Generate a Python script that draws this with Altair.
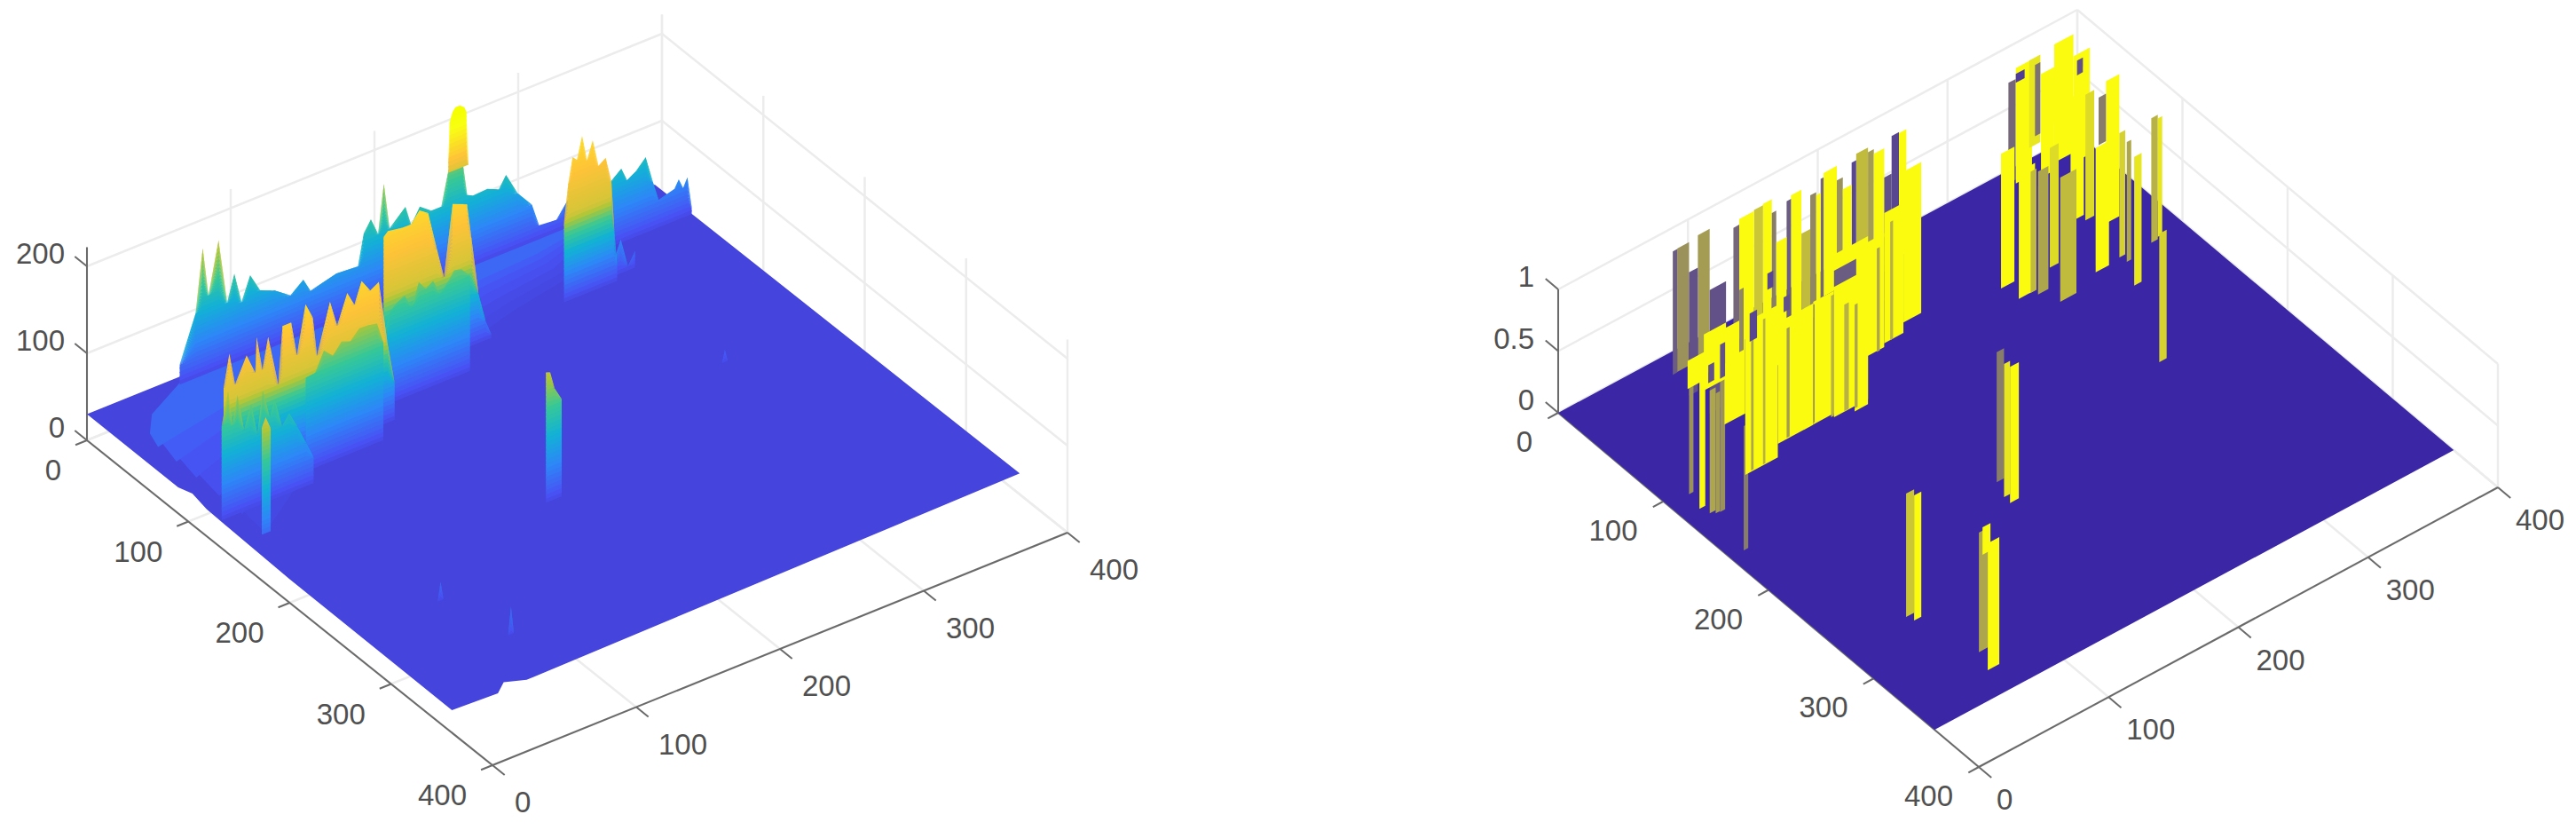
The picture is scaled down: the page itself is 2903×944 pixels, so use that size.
import altair as alt
import numpy as np
import pandas as pd

W, H = 2880, 920
PARULA = ["#3e26a8", "#4852f4", "#2d87f7", "#12b1d6", "#37c897", "#abc739", "#fec338", "#f9fb15"]
CLIM = 235.0
FLOOR_TONE = 23

X_TICKS = [0, 100, 200, 300, 400]
LEFT_Z_TICKS = [0, 100, 200]
RIGHT_Z_TICKS = [0, 0.5, 1]
RIGHT_Z_LABELS = ["0", "0.5", "1"]

# ---- left surface: floor outline (x, y, z)
FLOOR_L = [(0, 0, 30), (395, 0, 30), (395, 360, 34), (52, 360, 26), (36, 360, 34), (32, 360, 24), (0, 360, 26),
           (0, 200, 27), (0, 118, 31), (0, 104, 36), (0, 90, 30)]
# raised shoulder around the ridges
HAZE_OUTLINE = [(30, 60), (18, 110), (14, 156), (71, 118), (142, 90), (220, 67), (259, 56), (300, 48), (330, 30), (345, 5)]
HAZE_F = [1, 0.85, 0.7, 0.55, 0.42, 0.3]
HAZE_Z = [26, 28, 31, 35, 40, 47]

# ---- left surface: ridges
A_X = [61, 72, 77, 81, 88, 94, 99, 104, 110, 117, 127, 138, 147, 152, 170, 185, 189, 194, 199, 203, 207, 218, 222,
       228, 236, 243, 248, 249, 258, 261, 265, 275, 283, 288, 296, 306, 311, 323, 331]
A_Z = [51, 102, 174, 117, 176, 100, 130, 94, 121, 99, 92, 79, 91, 75, 83, 81, 116, 129, 109, 164, 110, 127, 104,
       121, 111, 111, 150, 150, 150, 112, 109, 110, 104, 117, 91, 71, 44, 42, 60]
D_X = [339, 347, 351, 357, 364, 369, 373, 384, 387, 390, 393, 396]
D_Z = [102, 113, 97, 103, 115, 83, 60, 65, 74, 62, 72, 36]
C_X = [286, 289, 292, 295, 298.6, 302, 306, 310, 315, 319, 321, 323]
C_Z = [120, 163, 191, 186, 211, 181, 201, 169, 175, 145, 87, 45]
CG_X = [293.5, 298.5, 303.4, 307, 312, 317, 323, 329, 334, 339]
CG_Z = [85, 77, 92, 61, 98, 60, 40, 67, 33, 47]
PEAK_X = [226, 227, 229, 231, 234, 237, 238.5, 240]
PEAK_Z = [206, 248, 258, 262, 262, 258, 252, 189]
F1_X = [21, 25, 29, 37, 43, 44, 48, 52, 59, 62, 68, 72, 78, 83, 86, 95, 100, 107, 112, 117, 123, 129, 135, 140]
F1_Z = [144, 181, 143, 171, 147, 187, 147, 182, 123, 188, 188, 148, 202, 184, 138, 194, 163, 196, 179, 203, 188, 194,
        120, 70]
F2_X = [157, 160, 170, 176, 182, 188, 194, 199, 205, 215, 218, 223, 228, 232]
F2_Z = [194, 199, 196, 196, 208, 201, 156, 120, 200, 193, 153, 85, 50, 32]
F2G_X = [142.7, 147.6, 152.6, 157.5, 162.5, 167.4, 172.4, 177.3, 182.2, 187.2, 192, 197, 203]
F2G_Z = [107, 134, 141, 145, 129, 154, 143, 149, 131, 140, 151, 149, 138]
F1G_X = [69, 75.4, 81.6, 87.8, 93.9, 100, 106.3, 112.5, 118.6, 123]
F1G_Z = [136, 137, 159, 149, 161, 157, 168, 167, 165, 141]
G_X = [2, 6.5, 9.6, 13, 17.6, 22.5, 26.9, 30.6, 35.5, 39, 44, 49, 54.6, 61, 66]
G_Z = [136, 174, 131, 165, 121, 148, 110, 158, 124, 142, 108, 120, 101, 77, 58]
SPOT_X = [162, 165, 168, 173]
SPOT_Z = [178, 176, 156, 140]
STREAK_X = [0.3, 3, 6.5]
STREAK_Z = [175, 185, 170]
BLEMISHES = [(70, 319, 60), (57, 268, 50), (326, 167, 42)]
WARM_Z = [28, 55, 85, 105, 125, 200, 265]
WARM_C = [28, 62, 105, 140, 185, 212, 235]

# ---- right surface: rows of (x0a, x0b, y_top, y_bottom, tone)
R_BACK = [
    (204.5, 214.7, 18.3, 18.3, 1), (157.8, 164.6, 17.2, 17.2, 1), (229.6, 238.7, 17.2, 17.2, .7),
    (256.9, 262.6, 18.1, 18.1, .15), (262.6, 268.3, 18.8, 18.8, 1), (150.9, 157.8, 18, 18, .75),
    (139.5, 150.9, 18.7, 18.7, 1), (107.6, 116.7, 14.5, 14.5, .55), (91.7, 100.8, 16, 16, .5),
    (88.3, 91.7, 16.4, 16.4, .25), (238.7, 243.2, 20.5, 20.5, .55), (202.2, 204.5, 21.3, 21.3, .3),
    (226.1, 229.6, 21.6, 21.6, .15), (179.4, 187.4, 21.6, 21.6, 1), (135, 139.5, 22.6, 22.6, .3),
    (243.2, 251.2, 23.7, 23.7, 1), (176, 179.4, 24, 24, .25), (164.6, 168, 26.7, 26.7, .4),
    (214.7, 219.3, 28.4, 28.4, .5), (194.2, 198.8, 28.7, 28.7, .45), (198.8, 202.2, 30.9, 30.9, 1),
    (100.8, 107.6, 36.8, 36.8, .2), (219.3, 226.1, 36.7, 36.7, 1), (251.2, 256.9, 43.9, 43.9, .2),
    (168, 176, 48.7, 48.7, 1), (187.4, 194.2, 51.9, 51.9, .7), (116.7, 129.3, 56.6, 56.6, .2),
]
R_FRONT = [
    (104.2, 100.8, 101.9, 104.6, .5), (108.8, 113.3, 115.9, 118.6, 1), (116.7, 121.3, 125.9, 125.5, .6),
    (121.3, 124.7, 130.1, 127.7, .55), (124.7, 128.6, 97.2, 128.4, .5), (142.9, 146.4, 163, 163.6, .4),
    (99.7, 115.6, 97.3, 31.7, 1), (112.2, 129.3, 85, 38.7, 1), (128.1, 144.1, 88.6, 69.8, 1),
    (144.1, 169.2, 92.2, 112.2, 1), (169.2, 196.5, 104.3, 102.9, 1), (196.5, 212.5, 103.2, 102.7, 1),
    (212.5, 238.7, 78.3, 105.4, 1), (228.4, 238.7, 112.4, 109, 1), (237.5, 251.2, 82.2, 75.7, 1),
    (251.2, 266, 68.4, 73.1, 1), (266, 279.7, 47, 65.9, 1),
    (148.6, 150.5, 102.5, 111.3, .6), (157.8, 159.6, 96.7, 111.6, .65), (176, 178.3, 111.7, 102, .55),
    (196.5, 197.6, 105.2, 101.7, .5), (210.2, 212.5, 105.7, 104.3, .65), (220.4, 223.9, 116.7, 105.1, .65),
    (228.4, 230.7, 120.6, 106.9, .6), (245.5, 247.8, 90.1, 76.4, .6), (255.8, 258, 76.7, 73.2, .65),
    (161.2, 165.7, 66.8, -7, .15), (147.5, 153.2, 87.7, 22.1, .15), (115.6, 120.2, 108, 35.3, .2),
    (124.7, 128.6, 98.1, 36.6, .2), (173.7, 178.3, 89.2, 14.4, .2), (139.5, 142.9, 67.6, 25.4, .45),
    (212.5, 229.6, 89.5, 15.7, .25),
]
R_CLUSTER = [
    (346.9, 352.6, 24.8, 9.1, .3), (352.6, 365.1, 17.4, 11.9, 1), (352.6, 359.4, 21.4, -57.5, .1),
    (362.9, 371.5, 17.2, -7.6, .9), (367.4, 371.5, 22.4, -13.6, .35), (382.2, 397, 15.3, 11.8, 1),
    (397, 409.6, 30.6, 19, 1), (399.8, 404.3, 34.9, -39.9, .2), (372, 382.2, 30.8, 17.1, 1),
    (422.1, 432.4, 59.9, 72.7, 1), (416.4, 422.1, 68.5, 16.1, .4),
    (394.8, 405, 58, 58.6, 1), (406.2, 413, 61.5, 63.1, .85), (378.8, 385.6, 85, 82.5, .85),
    (341.2, 351.5, 70.9, 78.7, 1), (354.9, 367.4, 89.8, 92.5, 1), (364, 368.5, 94.2, 92.8, .7),
    (369.7, 377.7, 96.9, 96.6, .6), (386.8, 399.3, 109.2, 109.8, .7), (414.1, 424.4, 102, 102.7, 1),
    (432.4, 436.9, 100.6, 101.2, .8), (438.1, 441.5, 109.5, 107, .6), (443.8, 449.5, 122.4, 126.1, .9),
    (457, 462, 102.2, 102.9, .65), (462, 465.4, 104.7, 101.3, .9), (463.1, 468.8, 184.7, 188.2, .8),
]
R_ISLANDS = [
    (337.8, 343.5, 205.9, 210.5, .4), (343.5, 348.1, 216.8, 223.5, .9), (348.1, 354.9, 221, 229.8, 1),
    (268, 274.2, 269.7, 269.7, .75), (274.2, 279.7, 273.9, 275.2, 1),
    (324.1, 330.9, 323.6, 321, .6), (330.9, 339.8, 334.2, 336.7, 1), (326.9, 333, 321.3, 255.2, 1),
]


def pl(x, y, z):
    return 98 + 1.62 * x + 1.1425 * y, 496 - 0.655 * x + 0.915 * y - 0.98 * z


def pr(x, y, z):
    return 1756 + 1.4625 * x + 1.185 * y, 465 - 0.7875 * x + 0.9975 * y - 139 * z


polys_l = []
pid = 0


def add_poly(store, pts, val, field):
    global pid
    pid += 1
    for k, (sx, sy) in enumerate(pts):
        store.append({"sx": sx, "sy": sy, "pid": f"p{pid:05d}", "k": k, field: val})


def clip(v, lo, hi):
    return max(lo, min(v, hi))


def wall(y, xs, tops, low=28, warm=False):
    levels = list(range(26, 276, 5))
    for a, b in reversed(list(zip(levels[:-1], levels[1:]))):
        if max(tops) <= a:
            continue
        up = [pl(x, y, clip(b + 1.5, low, t)) for x, t in zip(xs, tops)]
        dn = [pl(x, y, clip(a, low, t)) for x, t in zip(xs, tops)]
        mid = (a + b) / 2
        add_poly(polys_l, up + dn[::-1], float(np.interp(mid, WARM_Z, WARM_C)) if warm else mid, "z")


add_poly(polys_l, [pl(*p) for p in FLOOR_L], FLOOR_TONE, "z")
for f, zh in zip(HAZE_F, HAZE_Z):
    outline = [pl(x, 5 + (y - 5) * f, 30) for x, y in HAZE_OUTLINE]
    outline += [pl(61, 5, 30)]
    add_poly(polys_l, outline, zh, "z")
for bl in BLEMISHES:
    wall(bl[1], [bl[0] - 2, bl[0], bl[0] + 2], [28, bl[2], 28])
wall(5, A_X, A_Z)
wall(35, D_X, D_Z)
wall(36, PEAK_X, PEAK_Z, low=190)
wall(60, CG_X, CG_Z)
wall(65, C_X, C_Z, warm=True)
wall(70, F2_X, F2_Z, warm=True)
wall(90, F2G_X, F2G_Z)
wall(105, F1_X, F1_Z, warm=True)
wall(118, F1G_X, F1G_Z)
wall(130, G_X, G_Z)
wall(172, STREAK_X, STREAK_Z, low=52)
wall(223, SPOT_X, SPOT_Z)

polys_r = []
add_poly(polys_r, [pr(0, 0, 0), pr(400, 0, 0), pr(400, 358, 0), pr(0, 358, 0)], 0, "tone")
for row in R_BACK + R_CLUSTER + R_FRONT + R_ISLANDS:
    xa, xb, yt, yf, tone = row
    add_poly(polys_r, [pr(xa - 0.81 * yt, yt, 1), pr(xb - 0.81 * yt, yt, 1),
                       pr(xb - 0.81 * yf, yf, 0), pr(xa - 0.81 * yf, yf, 0)], tone, "tone")


def frame(p, zticks, zmax):
    grid, axis = [], []

    def seg(store, a, b):
        ax, ay = p(*a)
        bx, by = p(*b)
        store.append({"sx": ax, "sy": ay, "ex": bx, "ey": by})

    for t in X_TICKS:
        seg(grid, (t, 0, 0), (t, 400, 0))
        seg(grid, (0, t, 0), (400, t, 0))
        seg(grid, (t, 0, 0), (t, 0, zmax))
        seg(grid, (400, t, 0), (400, t, zmax))
        seg(axis, (0, t, 0), (-8, t, 0))
        seg(axis, (t, 400, 0), (t, 412, 0))
    for z in zticks:
        seg(grid, (0, 0, z), (400, 0, z))
        seg(grid, (400, 0, z), (400, 400, z))
        seg(axis, (0, 0, z), (0, -12, z))
    seg(axis, (0, 0, 0), (0, 0, zmax))
    seg(axis, (0, 0, 0), (0, 400, 0))
    seg(axis, (0, 400, 0), (400, 400, 0))
    return grid, axis


gl, al = frame(pl, LEFT_Z_TICKS, 222)
gr, ar = frame(pr, RIGHT_Z_TICKS, 1)

XS = alt.X("sx:Q", scale=alt.Scale(domain=[8, 8 + W], nice=False, zero=False), axis=None)
YS = alt.Y("sy:Q", scale=alt.Scale(domain=[8 + H, 8], nice=False, zero=False), axis=None)


def seg_layer(rows, color, width):
    return alt.Chart(pd.DataFrame(rows)).mark_rule(color=color, strokeWidth=width).encode(
        x=XS, y=YS, x2="ex:Q", y2="ey:Q")


def poly_layer(rows, field, domain, rng):
    return alt.Chart(pd.DataFrame(rows)).mark_line(filled=True).encode(
        x=XS, y=YS, detail="pid:N", order="k:Q",
        color=alt.Color(f"{field}:Q", scale=alt.Scale(domain=domain, range=rng, interpolate="rgb"), legend=None))


def label_rows(p, kind, zticks=None, zlabels=None):
    rows = []
    if kind == "z":
        for z, s in zip(zticks, zlabels):
            sx, sy = p(0, 0, z)
            rows.append({"sx": sx, "sy": sy, "t": s})
    elif kind == "y":
        for t in X_TICKS:
            sx, sy = p(0, t, 0)
            rows.append({"sx": sx, "sy": sy, "t": str(t)})
    else:
        for t in X_TICKS:
            sx, sy = p(t, 400, 0)
            rows.append({"sx": sx, "sy": sy, "t": str(t)})
    return rows


def text_layer(rows, align, dx, dy):
    return alt.Chart(pd.DataFrame(rows)).mark_text(
        align=align, baseline="middle", dx=dx, dy=dy, font="Liberation Sans", fontSize=33, color="#505050"
    ).encode(x=XS, y=YS, text="t:N")


LZ = [str(v) for v in LEFT_Z_TICKS]
dom_l = [CLIM * k / 7 for k in range(8)]
layers = [
    seg_layer(gl + gr, "#ececec", 2.5),
    seg_layer(al + ar, "#6a6a6a", 2),
    poly_layer(polys_l, "z", dom_l, PARULA),
    poly_layer(polys_r, "tone", [0, 1], ["#3b27a6", "#fbfb10"]),
    text_layer(label_rows(pl, "z", LEFT_Z_TICKS, LZ), "right", -25, -13),
    text_layer(label_rows(pl, "y"), "right", -29, 35),
    text_layer(label_rows(pl, "x"), "left", 25, 43),
    text_layer(label_rows(pr, "z", RIGHT_Z_TICKS, RIGHT_Z_LABELS), "right", -27, -13),
    text_layer(label_rows(pr, "y"), "right", -29, 34),
    text_layer(label_rows(pr, "x"), "left", 20, 38),
]

chart = alt.layer(*layers).resolve_scale(color="independent").properties(
    width=W, height=H, padding=0
).configure_view(stroke=None)

chart.save("out.html", embed_options={"renderer": "svg", "actions": False})
